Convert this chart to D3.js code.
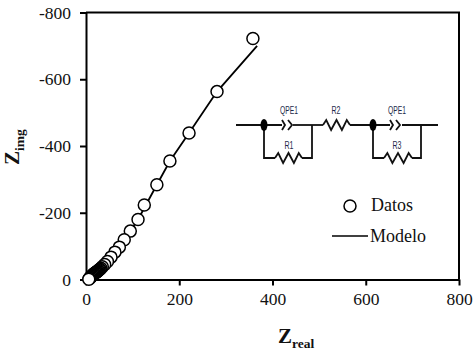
<!DOCTYPE html>
<html>
<head>
<meta charset="utf-8">
<script src="https://cdn.jsdelivr.net/npm/d3@7"></script>
<style>
    html, body { margin: 0; padding: 0; background: #fff; }
    svg { display: block; }
    text { font-family: "Liberation Serif", serif; fill: #111; }
    .circuit text { font-family: "Liberation Sans", sans-serif; font-size: 10.5px; fill: #1c2a4a; }
</style>
</head>
<body>
<svg id="chart" width="474" height="353"></svg>
<script>
    // from the far end of the curve down to the origin
    const zReal = [358, 281, 221, 180, 152, 125, 111.6, 95, 82, 71.5, 62, 53.6, 46, 40, 35, 32, 30, 28, 26.5, 25, 24, 23, 22, 21, 20, 19, 18, 17, 16, 15, 14, 13, 12, 11, 10, 9, 8, 7, 6];
    const zImg = [-722, -563, -439, -355, -284, -223, -180, -145, -119, -97, -82, -67, -54, -45, -38, -34, -31, -29, -27, -25, -24, -23, -22, -21, -20, -19, -18, -17, -16, -14, -13, -12, -10, -9, -7, -6, -4, -3, -1];

    const modelReal = [6, 20, 46, 82, 111.6, 152, 180, 221, 281, 367];
    const modelImg = [-1, -20, -54, -119, -180, -284, -355, -439, -563, -700];

    const xTicks = [0, 200, 400, 600, 800];
    const yTicks = [0, -200, -400, -600, -800];

    const svg = d3.select('#chart');

    const xScale = d3.scaleLinear().domain([0, 800]).range([86, 459]);
    const yScale = d3.scaleLinear().domain([0, -800]).range([279.5, 12.5]);

    let xAxis = d3.axisBottom(xScale).tickValues(xTicks).tickSize(6).tickSizeOuter(0).tickPadding(7).tickFormat(d => String(d));
    let yAxis = d3.axisLeft(yScale).tickValues(yTicks).tickSize(6).tickSizeOuter(0).tickPadding(9).tickFormat(d => String(d));

    // top and right sides of the frame
    svg.append('path')
        .attr('d', d3.line()([[xScale(0), yScale(-800)], [xScale(800), yScale(-800)], [xScale(800), yScale(0)]]))
        .attr('fill', 'none').attr('stroke', '#000').attr('stroke-width', 2);

    const gx = svg.append('g').attr('transform', 'translate(0,' + yScale(0) + ')').call(xAxis);
    const gy = svg.append('g').attr('transform', 'translate(' + xScale(0) + ',0)').call(yAxis);
    svg.selectAll('.domain, .tick line').attr('stroke', '#000').attr('stroke-width', 2);
    svg.selectAll('.tick text').style('font-family', '"Liberation Serif", serif').style('font-size', '17.5px').attr('fill', '#111');

    const line = d3.line().x(i => xScale(modelReal[i])).y(i => yScale(modelImg[i]));
    svg.append('path')
        .attr('d', line(d3.range(modelReal.length)))
        .attr('fill', 'none').attr('stroke', '#000').attr('stroke-width', 1.8);

    svg.append('g').selectAll('circle').data(d3.range(zReal.length)).enter().append('circle')
        .attr('cx', i => xScale(zReal[i]))
        .attr('cy', i => yScale(zImg[i]))
        .attr('r', 6)
        .attr('fill', '#fff').attr('stroke', '#000').attr('stroke-width', 1.5);

    // axis titles
    const xTitle = svg.append('text').attr('x', 278).attr('y', 343).attr('font-weight', 'bold');
    xTitle.append('tspan').attr('font-size', 21).text('Z');
    xTitle.append('tspan').attr('font-size', 13.5).attr('dy', 5).text('real');

    const yTitle = svg.append('text').attr('transform', 'translate(19,165) rotate(-90)').attr('font-weight', 'bold');
    yTitle.append('tspan').attr('font-size', 21).text('Z');
    yTitle.append('tspan').attr('font-size', 13.5).attr('dy', 5).text('img');

    // legend
    svg.append('circle').attr('cx', 350).attr('cy', 206).attr('r', 6)
        .attr('fill', '#fff').attr('stroke', '#000').attr('stroke-width', 1.5);
    svg.append('text').attr('x', 371).attr('y', 211).attr('font-size', 18).text('Datos');
    svg.append('line').attr('x1', 332).attr('x2', 368).attr('y1', 236).attr('y2', 236)
        .attr('stroke', '#000').attr('stroke-width', 1.5);
    svg.append('text').attr('x', 370).attr('y', 242).attr('font-size', 18).text('Modelo');

    // equivalent circuit inset
    const circuit = svg.append('g').attr('class', 'circuit');
    const zig = (x, y, w) => {
        let pts = [];
        [0, 0.12, 0.3, 0.5, 0.7, 0.88, 1].forEach((f, i) => {
            let dy = [0, -5, 5, -5, 5, -5, 0][i];
            pts.push([x + f * w, y + dy]);
        });
        return pts;
    };
    const wires = [
        [[236, 125], [282, 125]], [[293, 125], [323, 125]], zig(323, 125, 27), [[350, 125], [390, 125]], [[402, 125], [438, 125]],
        [[264, 125], [264, 158], [275, 158]], zig(275, 158, 27), [[302, 158], [312, 158], [312, 125]],
        [[373, 125], [373, 158], [384, 158]], zig(384, 158, 28), [[412, 158], [421, 158], [421, 125]],
        [[282, 120], [285, 125], [282, 130]], [[288, 120], [292, 125], [288, 130]],
        [[390, 120], [393, 125], [390, 130]], [[396, 120], [400, 125], [396, 130]]
    ];
    circuit.selectAll('path').data(wires).enter().append('path')
        .attr('d', d3.line())
        .attr('fill', 'none').attr('stroke', '#111').attr('stroke-width', 1.8);
    circuit.selectAll('ellipse').data([264, 373]).enter().append('ellipse')
        .attr('cx', d => d).attr('cy', 125).attr('rx', 3.5).attr('ry', 6).attr('fill', '#000');
    const labels = [['QPE1', 289, 114, 18], ['R2', 336, 114, 9], ['QPE1', 397, 114, 18], ['R1', 289, 149, 9], ['R3', 397, 149, 9]];
    circuit.selectAll('text').data(labels).enter().append('text')
        .attr('x', d => d[1]).attr('y', d => d[2]).attr('text-anchor', 'middle')
        .attr('textLength', d => d[3]).attr('lengthAdjust', 'spacingAndGlyphs').text(d => d[0]);
</script>
</body>
</html>
